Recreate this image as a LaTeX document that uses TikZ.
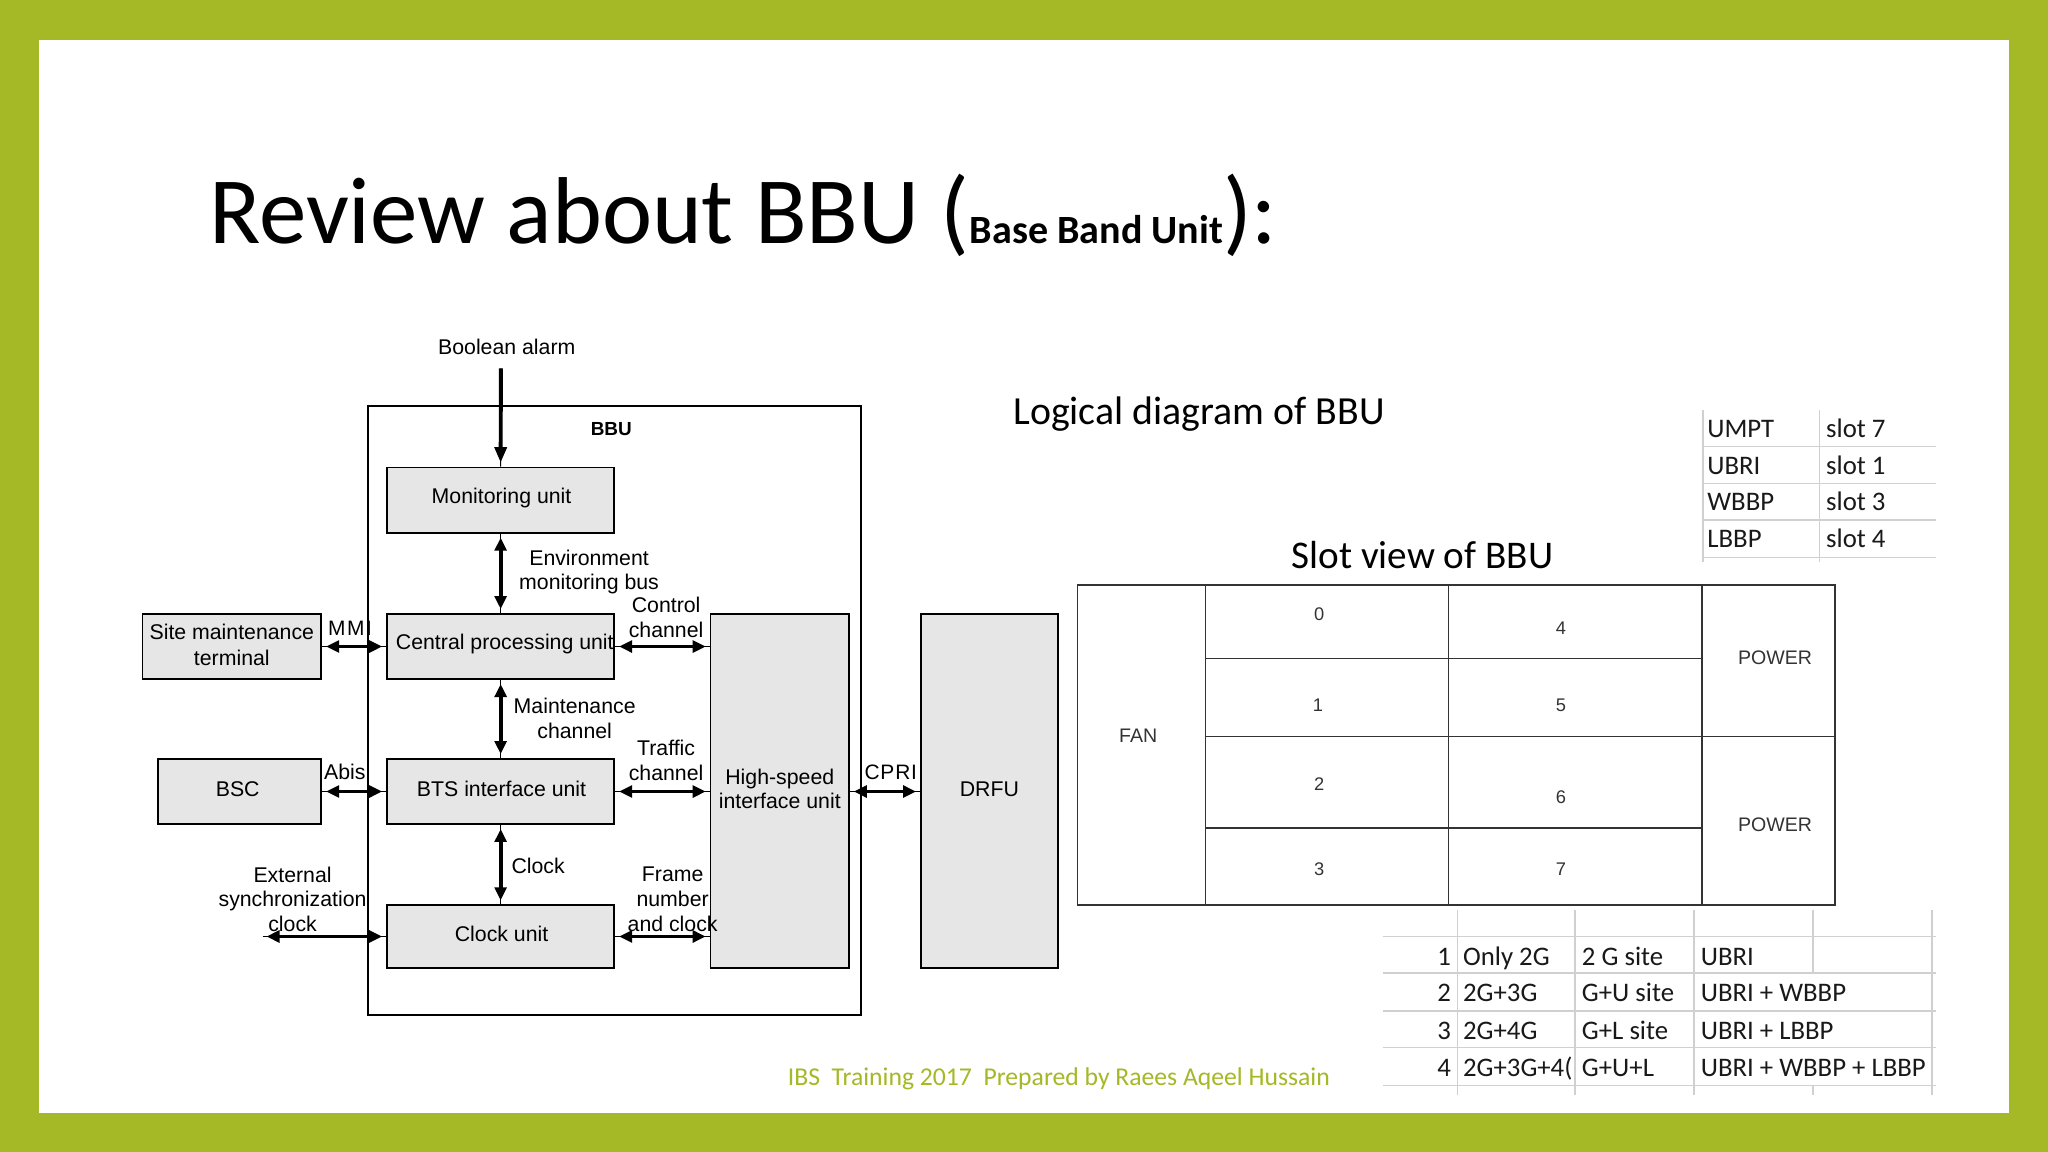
\documentclass[tikz,border=0pt]{standalone}
\usepackage{fontspec}
\usetikzlibrary{arrows.meta}
\setmainfont{Carlito}
\newfontfamily\dia{Liberation Sans}
\definecolor{barg}{HTML}{A5B825}
\definecolor{foot}{HTML}{A5B825}
\definecolor{gridc}{HTML}{D0D0D0}
\definecolor{slotl}{HTML}{333333}
\definecolor{boxf}{HTML}{E6E6E6}
\newcommand{\dlink}[2]{%
  \draw[thinlink] #1 -- #2;
  \draw[buslink,{Triangle[length=10pt,width=9pt]}-{Triangle[length=10pt,width=9pt]}] #1 -- #2;}
\tikzset{
  unit/.style={draw=black,line width=1.3pt,fill=boxf,inner sep=0pt,font=\dia\fontsize{16}{19.5}\selectfont,align=center},
  lbl/.style={inner sep=0pt,font=\dia\fontsize{16.3}{19}\selectfont,align=center},
  sl/.style={inner sep=0pt,font=\dia\fontsize{14}{16}\selectfont,text=black!80},
  buslink/.style={line width=3pt,shorten <=3pt,shorten >=3pt},
  thinlink/.style={line width=0.8pt},
  tb/.style={inner sep=0pt,font=\fontsize{20.5}{24}\selectfont,anchor=base west,text=black!90},
  grid/.style={draw=gridc,line width=1.1pt},
  slot/.style={draw=slotl,line width=1.1pt},
}
\begin{document}
\begin{tikzpicture}[x=1pt,y=-1pt]
\useasboundingbox (0,0) rectangle (1568,882);
\fill[barg] (0,0) rectangle (1568,882);
\fill[white] (30,31) rectangle (1538,852);
% title
\node[anchor=base west,inner sep=0pt] (title) at (160,186.5) {\fontsize{72.7}{80}\selectfont Review about BBU (\fontsize{30.7}{32}\selectfont\bfseries Base Band Unit\fontsize{72.7}{80}\selectfont\mdseries ):};
\node[inner sep=0pt,font=\fontsize{30.5}{34}\selectfont] (logt) at (918,317) {Logical diagram of BBU};
\node[inner sep=0pt,font=\fontsize{30}{34}\selectfont] (slott) at (1089,425) {Slot view of BBU};
\node[inner sep=0pt,font=\fontsize{19.65}{24}\selectfont,text=foot,anchor=base west] (footer) at (603,831) {IBS\ \ Training 2017\ \ Prepared by Raees Aqeel Hussain};
% BBU frame
\node[draw=black,line width=1.3pt,minimum width=377pt,minimum height=466pt,inner sep=0pt] (bbu) at (470.5,544) {};
\node[inner sep=0pt,font=\dia\bfseries\fontsize{14.5}{17}\selectfont] (bbul) at (468,328.5) {BBU};
% units
\node[unit,minimum width=174pt,minimum height=50pt] (mon) at (383.3,383) {};
\node[lbl] at (384,381.5) {Monitoring unit};
\node[unit,minimum width=174pt,minimum height=50pt] (cpu) at (383.3,495) {};
\node[lbl] at (386.5,492.7) {Central processing unit};
\node[unit,minimum width=174pt,minimum height=50pt] (bts) at (383.3,606) {};
\node[lbl] at (384,604) {BTS interface unit};
\node[unit,minimum width=174pt,minimum height=48pt] (clk) at (383.3,717) {};
\node[lbl] at (384,715.3) {Clock unit};
\node[unit,minimum width=137pt,minimum height=50pt] (site) at (177.5,495) {};
\node[lbl,font=\dia\fontsize{16.3}{20}\selectfont] at (177.5,493.5) {Site maintenance\\terminal};
\node[unit,minimum width=125pt,minimum height=50pt] (bsc) at (183.5,606) {};
\node[lbl] at (182,604) {BSC};
\node[unit,minimum width=106pt,minimum height=271pt] (hs) at (597,605.5) {};
\node[lbl] at (597,604) {High-speed\\interface unit};
\node[unit,minimum width=105pt,minimum height=271pt] (drfu) at (757.5,605.5) {};
\node[lbl] at (757.5,604) {DRFU};
% connectors
\coordinate (alarm) at (383.5,282);
\coordinate (ext) at (201,717);
\draw[thinlink] (alarm) -- (mon.north);
\draw[buslink,shorten <=0pt,-{Triangle[length=12pt,width=9pt]}] (alarm) -- (mon.north);
\dlink{(mon.south)}{(cpu.north)}
\dlink{(cpu.south)}{(bts.north)}
\dlink{(bts.south)}{(clk.north)}
\dlink{(site.east)}{(cpu.west)}
\dlink{(bsc.east)}{(bts.west)}
\dlink{(ext)}{(clk.west)}
\dlink{(cpu.east)}{(cpu.east -| hs.west)}
\dlink{(bts.east)}{(bts.east -| hs.west)}
\dlink{(clk.east)}{(clk.east -| hs.west)}
\dlink{(bts.east -| hs.east)}{(bts.east -| drfu.west)}
% connector labels
\node[lbl] at (388,265.3) {Boolean alarm};
\node[lbl] at (451,438) {Environment\\monitoring bus};
\node[lbl] at (510,472.5) {Control\\channel};
\node[lbl,font=\dia\fontsize{16}{19}\addfontfeature{LetterSpace=8}\selectfont] at (268,481) {MMI};
\node[lbl] at (440,550) {Maintenance\\channel};
\node[lbl] at (510,582) {Traffic\\channel};
\node[lbl] at (264,591) {Abis};
\node[lbl,font=\dia\fontsize{16}{19}\addfontfeature{LetterSpace=4}\selectfont] at (682,591) {CPRI};
\node[lbl] at (412,663.3) {Clock};
\node[lbl] at (224,688.5) {External\\synchronization\\clock};
\node[lbl] at (515,688.5) {Frame\\number\\and clock};
% slot view
\draw[slot] (825,448) rectangle (1405,693);
\draw[slot] (923,448) -- (923,693);
\draw[slot] (1109,448) -- (1109,693);
\draw[slot] (1303,448) -- (1303,693);
\draw[slot] (923,504) -- (1303,504);
\draw[slot] (923,564) -- (1405,564);
\draw[slot] (923,634) -- (1303,634);
\node[sl,font=\dia\fontsize{15}{17}\selectfont] at (871.5,563) {FAN};
\node[sl,font=\dia\fontsize{15}{17}\selectfont] at (1359,503.5) {POWER};
\node[sl,font=\dia\fontsize{15}{17}\selectfont] at (1359,631.5) {POWER};
\node[sl] at (1010,470.3) {0};
\node[sl] at (1195,481.3) {4};
\node[sl] at (1009,540.3) {1};
\node[sl] at (1195,540.3) {5};
\node[sl] at (1010,600.3) {2};
\node[sl] at (1195,610.3) {6};
\node[sl] at (1010,665.3) {3};
\node[sl] at (1195,665.3) {7};
% top-right table
\foreach \x in {1304,1393} \draw[grid] (\x,314) -- (\x,430);
\foreach \y in {342,370,398,427} \draw[grid] (1304,\y) -- (1482,\y);
\node[tb] at (1307,335) {UMPT};
\node[tb] at (1398,335) {slot 7};
\node[tb] at (1307,363) {UBRI};
\node[tb] at (1398,363) {slot 1};
\node[tb] at (1307,391) {WBBP};
\node[tb] at (1398,391) {slot 3};
\node[tb] at (1307,419) {LBBP};
\node[tb] at (1398,419) {slot 4};
% bottom table
\foreach \x in {1116,1206,1297,1479} \draw[grid] (\x,697) -- (\x,838);
\draw[grid] (1388,697) -- (1388,745);
\draw[grid] (1388,831) -- (1388,838);
\foreach \y in {717,745,774,802,831} \draw[grid] (1059,\y) -- (1482,\y);
\foreach \y/\n/\a/\b/\c in {739/1/Only 2G/2 G site/UBRI,767/2/2G+3G/G+U site/UBRI + WBBP,796/3/2G+4G/G+L site/UBRI + LBBP,824/4/2G+3G+4(/G+U+L/UBRI + WBBP + LBBP}{
  \node[tb,anchor=base east] at (1111,\y) {\n};
  \node[tb] at (1120,\y) {\a};
  \node[tb] at (1211,\y) {\b};
  \node[tb] at (1302,\y) {\c};
}
\end{tikzpicture}
\end{document}
